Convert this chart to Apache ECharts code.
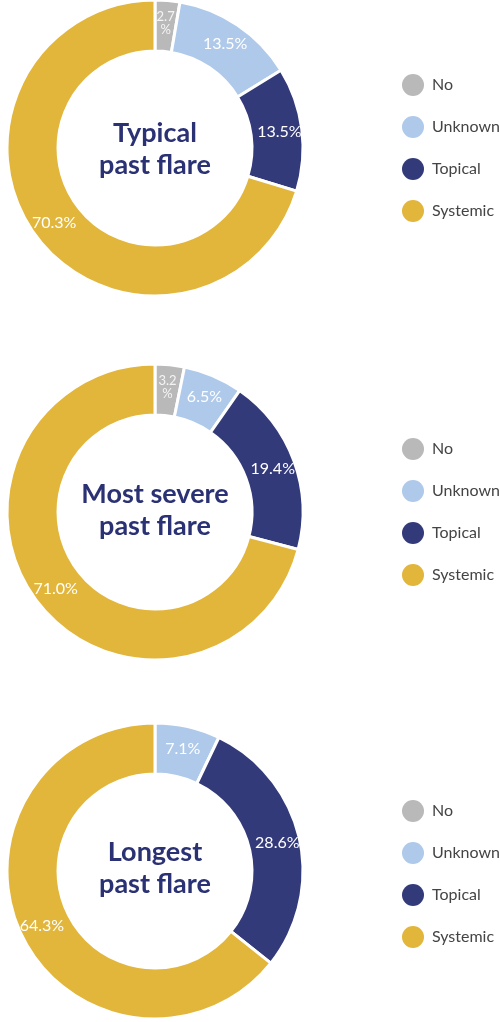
<!DOCTYPE html>
<html>
<head>
<meta charset="utf-8">
<script src="https://cdn.jsdelivr.net/npm/echarts@6/dist/echarts.min.js"></script>
<style>
  html, body { margin: 0; padding: 0; background: #fff; }
  #chart { width: 500px; height: 1022px; }
</style>
</head>
<body>
<div id="chart"></div>
<script>
const categories = ["No", "Unknown", "Topical", "Systemic"];
const colors = ["#b9b9b9", "#aec9ea", "#333a7a", "#e2b53b"];
const titles = ["Typical\npast flare", "Most severe\npast flare", "Longest\npast flare"];
const typicalValues = [2.7, 13.5, 13.5, 70.3];
const severeValues = [3.2, 6.5, 19.4, 71.0];
const longestValues = [0, 7.1, 28.6, 64.3];

const allValues = [typicalValues, severeValues, longestValues];
const centersY = [148, 512, 871];
const titleTops = [117, 478, 836];
const legendTops = [74, 438, 800];
const fontFamily = "Lato, 'Open Sans', sans-serif";

const chart = echarts.init(document.getElementById("chart"));

const series = allValues.map((vals, i) => ({
  type: "pie",
  center: [155, centersY[i]],
  radius: [97, 148],
  startAngle: 90,
  clockwise: true,
  avoidLabelOverlap: false,
  itemStyle: { borderColor: "#fff", borderWidth: 3 },
  label: {
    position: "inside",
    color: "#fff",
    fontFamily: fontFamily,
    fontSize: 16,
    formatter: (p) => {
      if (!p.value) return "";
      const txt = p.value.toFixed(1);
      return p.value < 5 ? "{s|" + txt + "}\n{s|%}" : txt + "%";
    },
    rich: { s: { fontSize: 13, lineHeight: 13, color: "#f4f4f4", fontFamily: fontFamily } }
  },
  labelLine: { show: false },
  emphasis: { disabled: true },
  data: categories.map((c, k) => ({ name: c, value: vals[k], itemStyle: { color: colors[k] } }))
}));

const option = {
  animation: false,
  title: titles.map((t, i) => ({
    text: t,
    left: 155,
    top: titleTops[i],
    textAlign: "center",
    padding: 0,
    textStyle: {
      fontFamily: fontFamily,
      fontSize: 27,
      fontWeight: "bold",
      color: "#2b3274",
      lineHeight: 32
    }
  })),
  legend: legendTops.map((top) => ({
    orient: "vertical",
    left: 402,
    top: top,
    padding: 0,
    icon: "circle",
    itemWidth: 22,
    itemHeight: 22,
    itemGap: 20,
    selectedMode: false,
    itemStyle: { borderWidth: 0 },
    data: categories,
    textStyle: { fontFamily: fontFamily, fontSize: 16, color: "#444", lineHeight: 20, padding: [0, 0, 0, 3] }
  })),
  series: series
};

chart.setOption(option);
</script>
</body>
</html>
